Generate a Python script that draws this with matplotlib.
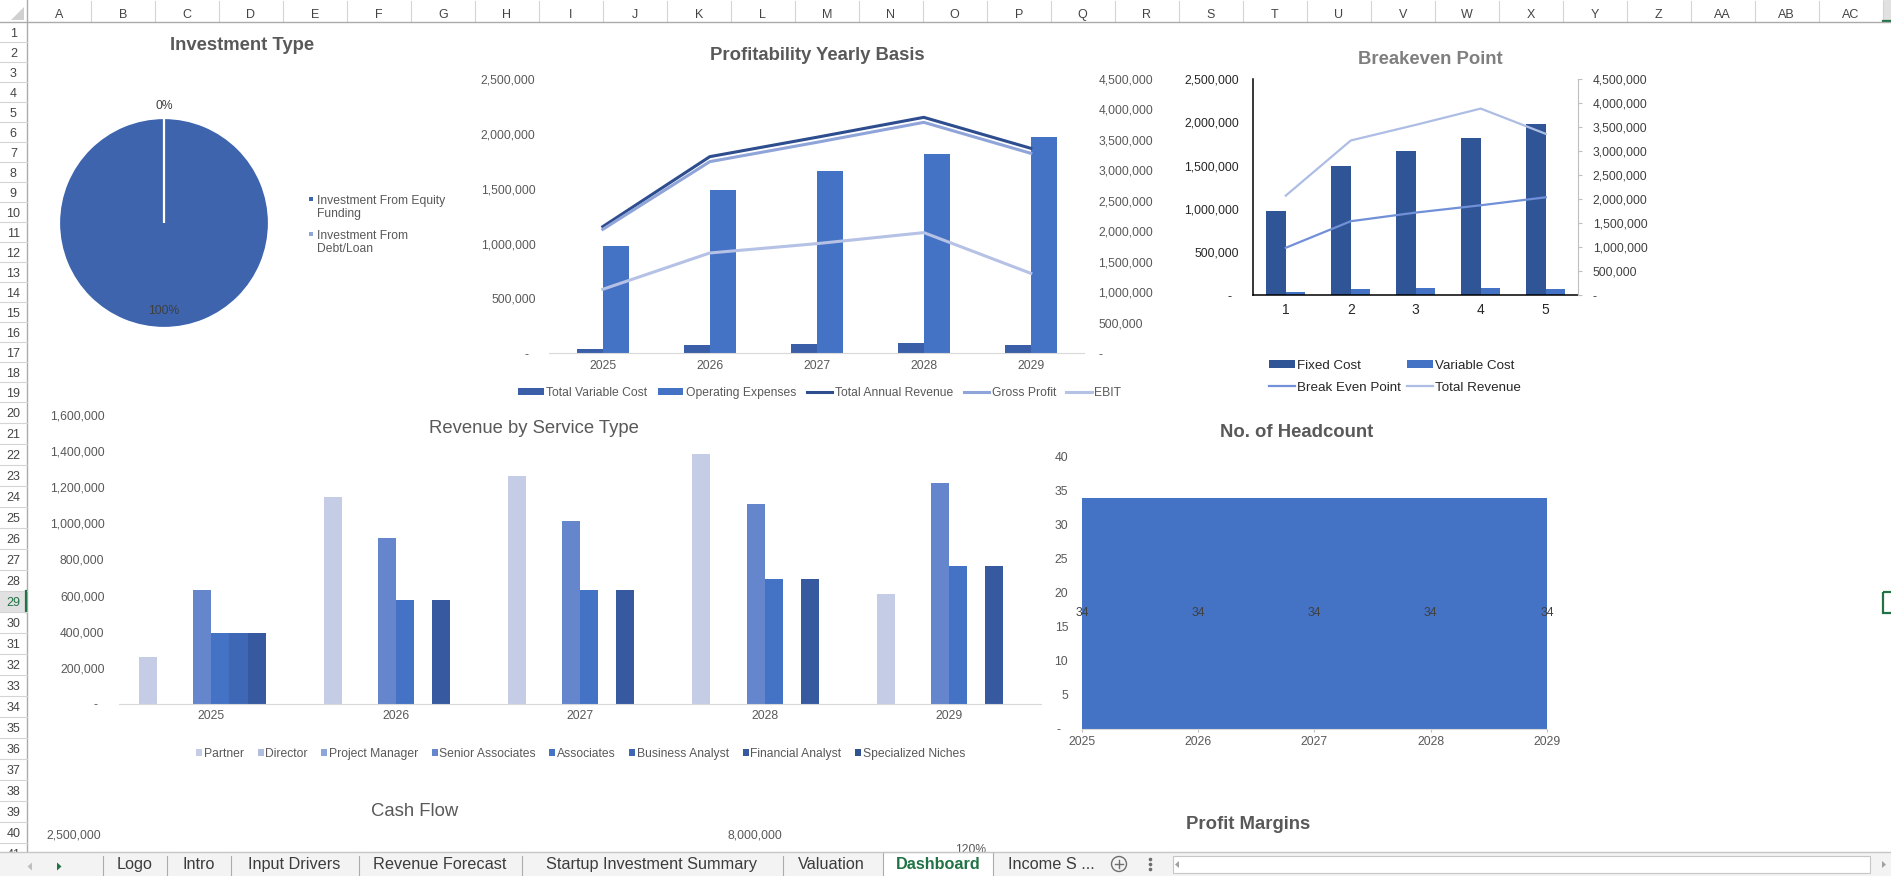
import numpy as np
import matplotlib
matplotlib.use('Agg')
import matplotlib.pyplot as plt
import matplotlib.ticker as mticker
from matplotlib.patches import Rectangle, Polygon, Circle

plt.rcParams['font.family'] = ['Liberation Sans', 'DejaVu Sans']

# ---------------- data ----------------
years = ['2025', '2026', '2027', '2028', '2029']

inv_labels = ['Investment From Equity\nFunding', 'Investment From\nDebt/Loan']
inv_share = [100, 0]

total_variable_cost = [40000, 76000, 85000, 92000, 76000]
operating_expenses = [977000, 1490000, 1662000, 1816000, 1972000]
total_annual_revenue = [2078000, 3226000, 3544000, 3871000, 3363000]
gross_profit = [2034000, 3144000, 3461000, 3789000, 3281000]
ebit = [1050000, 1646000, 1799000, 1980000, 1312000]

be_periods = ['1', '2', '3', '4', '5']
fixed_cost = [976000, 1494000, 1667000, 1818000, 1978000]
variable_cost = [39000, 74000, 85000, 87000, 75000]
break_even_point = [989000, 1541000, 1721000, 1873000, 2039000]
total_revenue = [2074000, 3221000, 3546000, 3885000, 3359000]

service_types = ['Partner', 'Director', 'Project Manager', 'Senior Associates',
                 'Associates', 'Business Analyst', 'Financial Analyst', 'Specialized Niches']
partner = [260000, 1145000, 1261000, 1382000, 608000]
director = [0, 0, 0, 0, 0]
project_manager = [0, 0, 0, 0, 0]
senior_associates = [630000, 918000, 1012000, 1106000, 1222000]
associates = [393000, 575000, 630000, 691000, 763000]
business_analyst = [393000, 0, 0, 0, 0]
financial_analyst = [393000, 575000, 630000, 691000, 763000]
specialized_niches = [0, 0, 0, 0, 0]

headcount = [34, 34, 34, 34, 34]

col_names = list('ABCDEFGHIJKLMNOPQRSTUVWXYZ') + ['AA', 'AB', 'AC', 'AD']
sheet_tabs = ['Logo', 'Intro', 'Input Drivers', 'Revenue Forecast',
              'Startup Investment Summary', 'Valuation', 'Dashboard']

# ---------------- figure ----------------
W, H = 1891, 876
fig = plt.figure(figsize=(W / 100, H / 100), dpi=100)
fig.patch.set_facecolor('white')

def add_ax(x0, y0, x1, y1, z=2):
    ax = fig.add_axes([x0 / W, 1 - y1 / H, (x1 - x0) / W, (y1 - y0) / H], zorder=z)
    ax.patch.set_visible(False)
    return ax

def money(v, pos):
    return '-  ' if v == 0 else f'{v:,.0f}'

def money_r(v, pos):
    return '-' if v == 0 else f'{v:,.0f}'

bg = fig.add_axes([0, 0, 1, 1], zorder=0)
bg.set_xlim(0, W); bg.set_ylim(H, 0); bg.axis('off')
top = fig.add_axes([0, 0, 1, 1], zorder=20)
top.set_xlim(0, W); top.set_ylim(H, 0); top.axis('off')

TXT = '#595959'
GREEN = '#217346'

# ---- spreadsheet headers ----
COL0, COLW, HDR = 26.7, 64, 22.3
for i, name in enumerate(col_names):
    x0 = COL0 + i * COLW
    if x0 + COLW > W:
        # selected column, only a sliver is on screen
        bg.add_patch(Rectangle((x0, 0), COLW, HDR, fc='#E1E1E1', ec='none'))
        bg.plot([x0, x0 + COLW], [HDR - 1, HDR - 1], color=GREEN, lw=1.6)
        continue
    bg.text(x0 + COLW / 2, 17.6, name, ha='center', va='baseline', fontsize=9, color='#444444')
    bg.plot([x0 + COLW, x0 + COLW], [1, HDR], color='#D4D4D4', lw=0.8)
bg.plot([0, W], [HDR, HDR], color='#ABABAB', lw=1)
bg.plot([COL0, COL0], [0, 852], color='#ABABAB', lw=1)
bg.add_patch(Polygon([(23.5, 7), (23.5, 19.5), (11, 19.5)], closed=True, fc='#D0D0D0', ec='none'))

y = HDR
for r in range(1, 42):
    h = 20 if r <= 19 else 21
    if r == 29:
        bg.add_patch(Rectangle((0, y), COL0, h, fc='#E1E1E1', ec='none'))
        bg.plot([COL0 - 0.8, COL0 - 0.8], [y, y + h], color=GREEN, lw=1.6)
    bg.text(COL0 / 2, y + h / 2 + 4.5, str(r), ha='center', va='baseline', fontsize=9,
            color=GREEN if r == 29 else '#444444')
    bg.plot([0, COL0], [y + h, y + h], color='#D4D4D4', lw=0.8)
    y += h
bg.add_patch(Rectangle((1882.5, 591.5), 30, 21, fill=False, ec=GREEN, lw=1.6))

# ---- Investment Type (pie) ----
bg.text(242, 50, 'Investment Type', ha='center', va='baseline', fontsize=13.3,
        fontweight='bold', color=TXT)
inv_colors = ['#3D64AD', '#8FA5D6']
ax_pie = add_ax(59, 118, 269, 328)
wedges, _ = ax_pie.pie(inv_share, colors=inv_colors, startangle=90, counterclock=False,
                       radius=1, wedgeprops=dict(edgecolor='white', linewidth=1.6))
ax_pie.set_xlim(-1, 1); ax_pie.set_ylim(-1, 1)
tot = sum(inv_share)
for wdg, v in zip(wedges, inv_share):
    ang = np.deg2rad((wdg.theta1 + wdg.theta2) / 2)
    rr = 1.11 if v / tot < 0.05 else 0.84
    ax_pie.text(rr * np.cos(ang), rr * np.sin(ang), f'{v / tot:.0%}', ha='center', va='center',
                fontsize=8.7, color='#404040', clip_on=False)
for i, (lab, c) in enumerate(zip(inv_labels, inv_colors)):
    yy = 199 + 35 * i
    nl = lab.count('\n')
    bg.add_patch(Rectangle((309.3, yy - 2), 4, 4, fc=c, ec='none'))
    bg.text(316.7, yy + 4.3 + 14 * nl, lab, ha='left', va='baseline', fontsize=8.7, color=TXT,
            linespacing=1.16)

# ---- Profitability Yearly Basis ----
bg.text(817, 60, 'Profitability Yearly Basis', ha='center', va='baseline', fontsize=13.3,
        fontweight='bold', color=TXT)
x = np.arange(len(years))
ax_p = add_ax(549.3, 79, 1084.3, 353.3)
w = 0.245
ax_p.bar(x - w / 2, total_variable_cost, w, color='#3A5FA8', label='Total Variable Cost')
ax_p.bar(x + w / 2, operating_expenses, w, color='#4472C4', label='Operating Expenses')
ax_p.set_xlim(-0.5, 4.5); ax_p.set_ylim(0, 2500000)
ax_p.set_yticks(np.arange(0, 2500001, 500000))
ax_p.yaxis.set_major_formatter(mticker.FuncFormatter(money))
ax_p.set_xticks(x); ax_p.set_xticklabels(years)
for s in ['top', 'left', 'right']:
    ax_p.spines[s].set_visible(False)
ax_p.spines['bottom'].set_color('#D9D9D9')
ax_p.tick_params(axis='y', length=0, pad=9.9, labelsize=8.7, labelcolor=TXT)
ax_p.tick_params(axis='x', length=0, pad=5, labelsize=8.7, labelcolor=TXT)
ax_p2 = ax_p.twinx()
ax_p2.set_zorder(3)
ax_p2.plot(x, total_annual_revenue, color='#2E4D8E', lw=2.2, label='Total Annual Revenue')
ax_p2.plot(x, gross_profit, color='#8FA4D8', lw=2.2, label='Gross Profit')
ax_p2.plot(x, ebit, color='#B5C1E5', lw=2.2, label='EBIT')
ax_p2.set_ylim(0, 4500000)
ax_p2.set_yticks(np.arange(0, 4500001, 500000))
ax_p2.yaxis.set_major_formatter(mticker.FuncFormatter(money_r))
for s in ax_p2.spines.values():
    s.set_visible(False)
ax_p2.tick_params(axis='y', length=0, pad=10, labelsize=8.7, labelcolor=TXT)
h1, l1 = ax_p.get_legend_handles_labels()
h2, l2 = ax_p2.get_legend_handles_labels()
fig.legend(h1 + h2, l1 + l2, loc='center', bbox_to_anchor=(819.8 / W, 1 - 393 / H), ncol=5,
           frameon=False, fontsize=8.7, handlelength=2.1, handleheight=0.5,
           handletextpad=0.22, columnspacing=0.87, labelcolor=TXT, borderpad=0)

# ---- Breakeven Point ----
bg.text(1430.4, 64, 'Breakeven Point', ha='center', va='baseline', fontsize=13.3,
        fontweight='bold', color='#7F7F7F')
ax_b = add_ax(1253.3, 79, 1578.2, 295.3)
wb = 0.297
bf = ax_b.bar(x - wb / 2, fixed_cost, wb, color='#2F5597', label='Fixed Cost')
bv = ax_b.bar(x + wb / 2, variable_cost, wb, color='#4472C4', label='Variable Cost')
ax_b.set_xlim(-0.5, 4.5); ax_b.set_ylim(0, 2500000)
ax_b.set_yticks(np.arange(0, 2500001, 500000))
ax_b.yaxis.set_major_formatter(mticker.FuncFormatter(money))
ax_b.set_xticks(x); ax_b.set_xticklabels(be_periods)
for s in ['top', 'right']:
    ax_b.spines[s].set_visible(False)
for s in ['left', 'bottom']:
    ax_b.spines[s].set_color('black'); ax_b.spines[s].set_linewidth(1.1)
ax_b.tick_params(axis='y', length=0, pad=10.3, labelsize=8.7, labelcolor='#262626')
ax_b.tick_params(axis='x', length=0, pad=5.5, labelsize=10, labelcolor='#262626')
ax_b2 = ax_b.twinx()
ax_b2.set_zorder(3)
lb, = ax_b2.plot(x, break_even_point, color='#7190D8', lw=1.6, label='Break Even Point')
lt, = ax_b2.plot(x, total_revenue, color='#AEBDE4', lw=1.6, label='Total Revenue')
ax_b2.set_ylim(0, 4500000)
ax_b2.set_yticks(np.arange(0, 4500001, 500000))
ax_b2.yaxis.set_major_formatter(mticker.FuncFormatter(money_r))
for s in ['top', 'left', 'bottom']:
    ax_b2.spines[s].set_visible(False)
ax_b2.spines['right'].set_color('#BFBFBF')
ax_b2.tick_params(axis='y', length=2.7, color='#BFBFBF', pad=7.7, labelsize=8.7,
                  labelcolor='#404040')
fig.legend([bf, lb, bv, lt], ['Fixed Cost', 'Break Even Point', 'Variable Cost', 'Total Revenue'],
           loc='center', bbox_to_anchor=(1395 / W, 1 - 376.8 / H), ncol=2, frameon=False,
           fontsize=9.6, handlelength=1.95, handleheight=0.5, handletextpad=0.2,
           columnspacing=0.4, labelspacing=0.72, labelcolor='#262626', borderpad=0)

# ---- Revenue by Service Type ----
bg.text(534.4, 433.3, 'Revenue by Service Type', ha='center', va='baseline', fontsize=13.3,
        color=TXT)
service_values = [partner, director, project_manager, senior_associates, associates,
                  business_analyst, financial_analyst, specialized_niches]
service_colors = ['#C5CDE6', '#B0BDE1', '#8EA5D9', '#6586CC', '#4472C4', '#3E68B6',
                  '#37599F', '#2F5290']
ax_r = add_ax(119.2, 414.7, 1041.3, 704)
wr = 0.098
for i, (name, vals, c) in enumerate(zip(service_types, service_values, service_colors)):
    ax_r.bar(x + (i - 3.5) * wr, vals, wr, color=c, label=name)
ax_r.set_xlim(-0.5, 4.5); ax_r.set_ylim(0, 1600000)
ax_r.set_yticks(np.arange(0, 1600001, 200000))
ax_r.yaxis.set_major_formatter(mticker.FuncFormatter(money))
ax_r.set_xticks(x); ax_r.set_xticklabels(years)
for s in ['top', 'left', 'right']:
    ax_r.spines[s].set_visible(False)
ax_r.spines['bottom'].set_color('#D9D9D9')
ax_r.tick_params(axis='y', length=0, pad=10.6, labelsize=8.7, labelcolor=TXT)
ax_r.tick_params(axis='x', length=0, pad=4.5, labelsize=8.7, labelcolor=TXT)
hr, lr = ax_r.get_legend_handles_labels()
fig.legend(hr, lr, loc='center', bbox_to_anchor=(580.7 / W, 1 - 754 / H), ncol=8,
           frameon=False, fontsize=8.7, handlelength=0.5, handleheight=0.5,
           handletextpad=0.15, columnspacing=1.1, labelcolor=TXT, borderpad=0)

# ---- No. of Headcount ----
bg.text(1296.2, 436.7, 'No. of Headcount', ha='center', va='baseline', fontsize=13.3,
        fontweight='bold', color=TXT)
hx = [int(v) for v in years]
ax_h = add_ax(1081.8, 456.7, 1547, 728.7)
ax_h.fill_between(hx, headcount, color='#4472C4', lw=0)
for xi, v in zip(hx, headcount):
    ax_h.text(xi, v / 2, str(v), ha='center', va='center', fontsize=8.7, color='#404040')
ax_h.set_xlim(hx[0], hx[-1]); ax_h.set_ylim(0, 40)
ax_h.set_yticks(np.arange(0, 41, 5))
ax_h.yaxis.set_major_formatter(mticker.FuncFormatter(lambda v, p: '-  ' if v == 0 else f'{v:.0f}'))
ax_h.set_xticks(hx); ax_h.set_xticklabels(years)
for s in ['top', 'left', 'right']:
    ax_h.spines[s].set_visible(False)
ax_h.spines['bottom'].set_color('#D9D9D9')
ax_h.tick_params(axis='y', length=0, pad=9.8, labelsize=8.7, labelcolor=TXT)
ax_h.tick_params(axis='x', length=2.2, color='#BFBFBF', pad=3.3, labelsize=8.7, labelcolor=TXT)

# ---- partially visible charts at the bottom ----
bg.text(414.7, 816, 'Cash Flow', ha='center', va='baseline', fontsize=13.3, color=TXT)
bg.text(1248.5, 829, 'Profit Margins', ha='center', va='baseline', fontsize=13.3,
        fontweight='bold', color=TXT)
bg.text(74.2, 835, '2,500,000', ha='center', va='center', fontsize=8.7, color=TXT)
bg.text(755, 835, '8,000,000', ha='center', va='center', fontsize=8.7, color=TXT)
bg.text(971, 850, '120%', ha='center', va='center', fontsize=8.7, color=TXT)

# ---- sheet tab bar ----
top.add_patch(Rectangle((0, 852), W, 24, fc='#F3F3F3', ec='none'))
top.plot([0, W], [852, 852], color='#C6C6C6', lw=1)
top.add_patch(Rectangle((882.7, 852), 110.6, 25, fc='white', ec='#ABABAB', lw=0.8))
for sx in [103.3, 167.3, 230.7, 359.3, 521.7, 782.7]:
    top.plot([sx, sx], [856, 875], color='#ABABAB', lw=0.8)
tab_x = [135, 198.8, 294, 439.5, 651.7, 831, 938]
for name, tx in zip(sheet_tabs, tab_x):
    active = name == 'Dashboard'
    top.text(tx, 869.2, name, ha='center', va='baseline', fontsize=11.7,
             fontweight='bold' if active else 'normal', color=GREEN if active else '#3C3C3C')
top.text(1008.3, 869.2, 'Income S ...', ha='left', va='baseline', fontsize=11.7, color='#3C3C3C')
top.add_patch(Polygon([(32, 862.5), (32, 870.5), (27.5, 866.5)], closed=True, fc='#BFBFBF', ec='none'))
top.add_patch(Polygon([(57, 862.5), (57, 870.5), (61.5, 866.5)], closed=True, fc=GREEN, ec='none'))
top.add_patch(Circle((1119, 864), 7.5, fill=False, ec='#6E6E6E', lw=1))
top.plot([1115, 1123], [864, 864], color='#6E6E6E', lw=1)
top.plot([1119, 1119], [860, 868], color='#6E6E6E', lw=1)
top.plot([1150, 1150, 1150], [859, 864, 869], ls='none', marker='o', ms=1.6, color='#6E6E6E')
top.add_patch(Rectangle((1172.5, 856), 697.5, 17, fc='white', ec='#C6C6C6', lw=0.8))
top.add_patch(Polygon([(1179, 861), (1179, 868), (1175, 864.5)], closed=True, fc='#A0A0A0', ec='none'))
top.add_patch(Polygon([(1882, 861), (1882, 868), (1886, 864.5)], closed=True, fc='#A0A0A0', ec='none'))

fig.savefig('out.png', dpi=100, facecolor='white')
